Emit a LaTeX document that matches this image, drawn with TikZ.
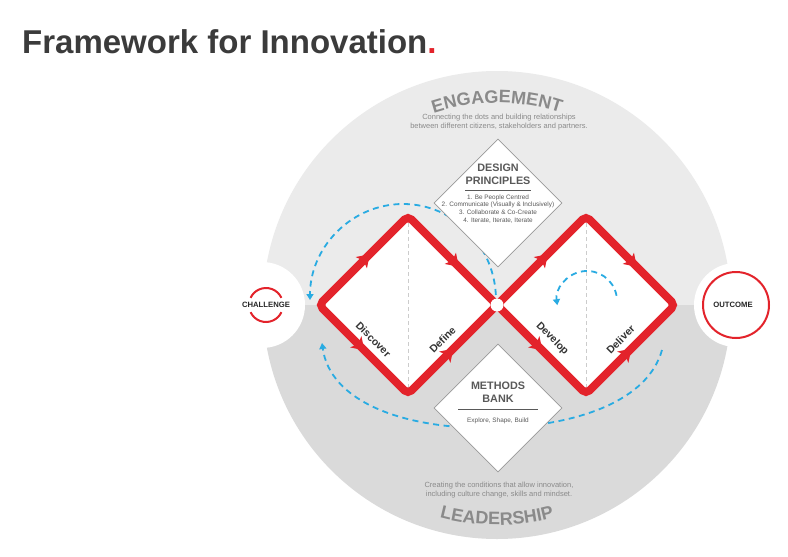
\documentclass[tikz,border=0pt]{standalone}
\usepackage{fontspec}
\setmainfont{Liberation Sans}
\usetikzlibrary{arrows.meta,decorations.markings,decorations.text,shapes.geometric,calc}

\definecolor{titlegrey}{HTML}{3B3B3B}
\definecolor{innred}{HTML}{E3232B}
\definecolor{upgrey}{HTML}{EBEBEB}
\definecolor{lowgrey}{HTML}{DADADA}
\definecolor{labgrey}{HTML}{8A8A8A}
\definecolor{boxgrey}{HTML}{595959}
\definecolor{flowblue}{HTML}{29ABE2}

\newcommand{\tipfwd}{\fill[innred, sharp corners] (5pt,0) -- (-7pt,8pt) -- (-4pt,0) -- (-7pt,-8pt) -- cycle;}
\newcommand{\tipbwd}{\fill[innred, sharp corners] (-5pt,0) -- (7pt,8pt) -- (4pt,0) -- (7pt,-8pt) -- cycle;}

\tikzset{
  redline/.style={draw=innred, line width=8pt, rounded corners=5pt, line join=miter},
  diamondflow/.style={postaction={decorate}, decoration={markings,
      mark=at position 0.125 with {\tipfwd},
      mark=at position 0.375 with {\tipfwd},
      mark=at position 0.625 with {\tipbwd},
      mark=at position 0.875 with {\tipbwd}}},
  midline/.style={draw=black!20, line width=0.6pt, dash pattern=on 4pt off 3pt},
  loopline/.style={draw=flowblue, line width=1.8pt, dash pattern=on 6pt off 4.5pt,
      -{Triangle[length=6pt,width=7pt]}},
  infobox/.style={diamond, aspect=1, fill=white, draw=black!40, line width=0.7pt,
      minimum width=128pt, minimum height=128pt, inner sep=0pt},
  boxhead/.style={align=center, text=boxgrey, inner sep=0pt,
      font=\fontsize{10.8}{13}\selectfont\bfseries},
  boxtext/.style={align=center, text=boxgrey, inner sep=0pt,
      font=\fontsize{6.4}{7.9}\selectfont},
  boxrule/.style={draw=boxgrey, line width=0.8pt},
  subtext/.style={align=center, text=labgrey, inner sep=0pt,
      font=\fontsize{7.5}{9}\selectfont},
  phaselabel/.style={midway, sloped, above=10pt, inner sep=0pt, text=black!80,
      font=\fontsize{10.5}{12}\selectfont\bfseries},
  endlabel/.style={inner sep=0pt, text=black!85, font=\fontsize{7.7}{9}\selectfont\bfseries},
  ringline/.style={draw=innred, line width=2pt}
}

\begin{document}
\begin{tikzpicture}[x=1pt,y=1pt]
\useasboundingbox (0,0) rectangle (788,-557);
\fill[white] (0,0) rectangle (788,-557);

\node[anchor=base west, inner sep=0pt, text=titlegrey, font=\fontsize{33}{33}\selectfont\bfseries]
  (title) at (22,-53) {Framework for Innovation{\color{innred}.}};

% main points
\coordinate (ctr) at (497,-305);
\coordinate (chal) at (262,-305);
\coordinate (outc) at (736,-305);
\coordinate (lft) at (319,-305);
\coordinate (ltop) at (408,-216);
\coordinate (lbot) at (408,-394);
\coordinate (mid) at (497,-305);
\coordinate (rtop) at (586,-216);
\coordinate (rbot) at (586,-394);
\coordinate (rgt) at (675,-305);
\coordinate (bigloop) at (403,-300);
\coordinate (smallloop) at (587,-301);
\coordinate (dlvend) at (662,-350);
\coordinate (dscend) at (322,-343);

% engagement / leadership halves
\fill[upgrey] (ctr) ++(0:234) arc[start angle=0, end angle=180, radius=234] -- cycle;
\fill[lowgrey] (ctr) ++(180:234) arc[start angle=180, end angle=360, radius=234] -- cycle;
\fill[white] (chal) circle[radius=43];
\fill[white] (outc) circle[radius=42];

% double diamond
\fill[white] (lft) -- (ltop) -- (mid) -- (lbot) -- cycle;
\fill[white] (mid) -- (rtop) -- (rgt) -- (rbot) -- cycle;
\draw[midline] (ltop) -- (lbot);
\draw[midline] (rtop) -- (rbot);

% iteration loops
\draw[loopline] (bigloop) ++(3:93 and 96) arc[start angle=3, end angle=180, x radius=93, y radius=96];
\draw[loopline] (smallloop) ++(10:30) arc[start angle=10, end angle=188, radius=30];
\draw[loopline] (dlvend) .. controls (648,-400) and (580,-425) .. (498,-428)
  .. controls (400,-430) and (330,-400) .. (dscend);

\draw[redline, diamondflow] (lft) -- (ltop) -- (mid) -- (lbot) -- cycle;
\draw[redline, diamondflow] (mid) -- (rtop) -- (rgt) -- (rbot) -- cycle;
\fill[white] (mid) circle[radius=6.5];

\path (lft) -- (lbot) node[phaselabel] (discover) {Discover};
\path (lbot) -- (mid) node[phaselabel] (define) {Define};
\path (mid) -- (rbot) node[phaselabel] (develop) {Develop};
\path (rbot) -- (rgt) node[phaselabel] (deliver) {Deliver};

% design principles
\node[infobox] (dp) at (498,-203) {};
\node[boxhead] (dphead) at (498,-174.5) {DESIGN\\PRINCIPLES};
\draw[boxrule] ($(dp.center)+(-33,13)$) -- ++(66,0);
\node[boxtext] (dplist) at (498,-209) {1. Be People Centred\\2. Communicate (Visually \& Inclusively)\\3. Collaborate \& Co-Create\\4. Iterate, Iterate, Iterate};

% methods bank
\node[infobox] (mb) at (498,-408) {};
\node[boxhead] (mbhead) at (498,-392.5) {METHODS\\BANK};
\draw[boxrule] ($(mb.center)+(-40,-1)$) -- ++(80,0);
\node[boxtext] (mblist) at (498,-421) {Explore, Shape, Build};

% ends
\node[endlabel] (challenge) at (266,-305) {CHALLENGE};
\draw[ringline] (challenge.center) ++(25:17) arc[start angle=25, end angle=155, radius=17];
\draw[ringline] (challenge.center) ++(205:17) arc[start angle=205, end angle=335, radius=17];
\node[endlabel] (outcome) at (733,-305) {OUTCOME};
\draw[ringline] (outc) circle[radius=33];

% ring texts
\path[decorate, decoration={text along path, text align=center,
    text={|\fontsize{18}{18}\selectfont\bfseries\color{labgrey}|ENGAGEMENT}}]
  (ctr) ++(125:202) arc[start angle=125, end angle=55, radius=202];
\node[subtext] (engtext) at (499,-122) {Connecting the dots and building relationships\\between different citizens, stakeholders and partners.};
\node[subtext] (leadtext) at (499,-490) {Creating the conditions that allow innovation,\\including culture change, skills and mindset.};
\path[decorate, decoration={text along path, text align=center,
    text={|\fontsize{18}{18}\selectfont\bfseries\color{labgrey}|LEADERSHIP}}]
  (ctr) ++(235:220) arc[start angle=235, end angle=305, radius=220];
\end{tikzpicture}
\end{document}
